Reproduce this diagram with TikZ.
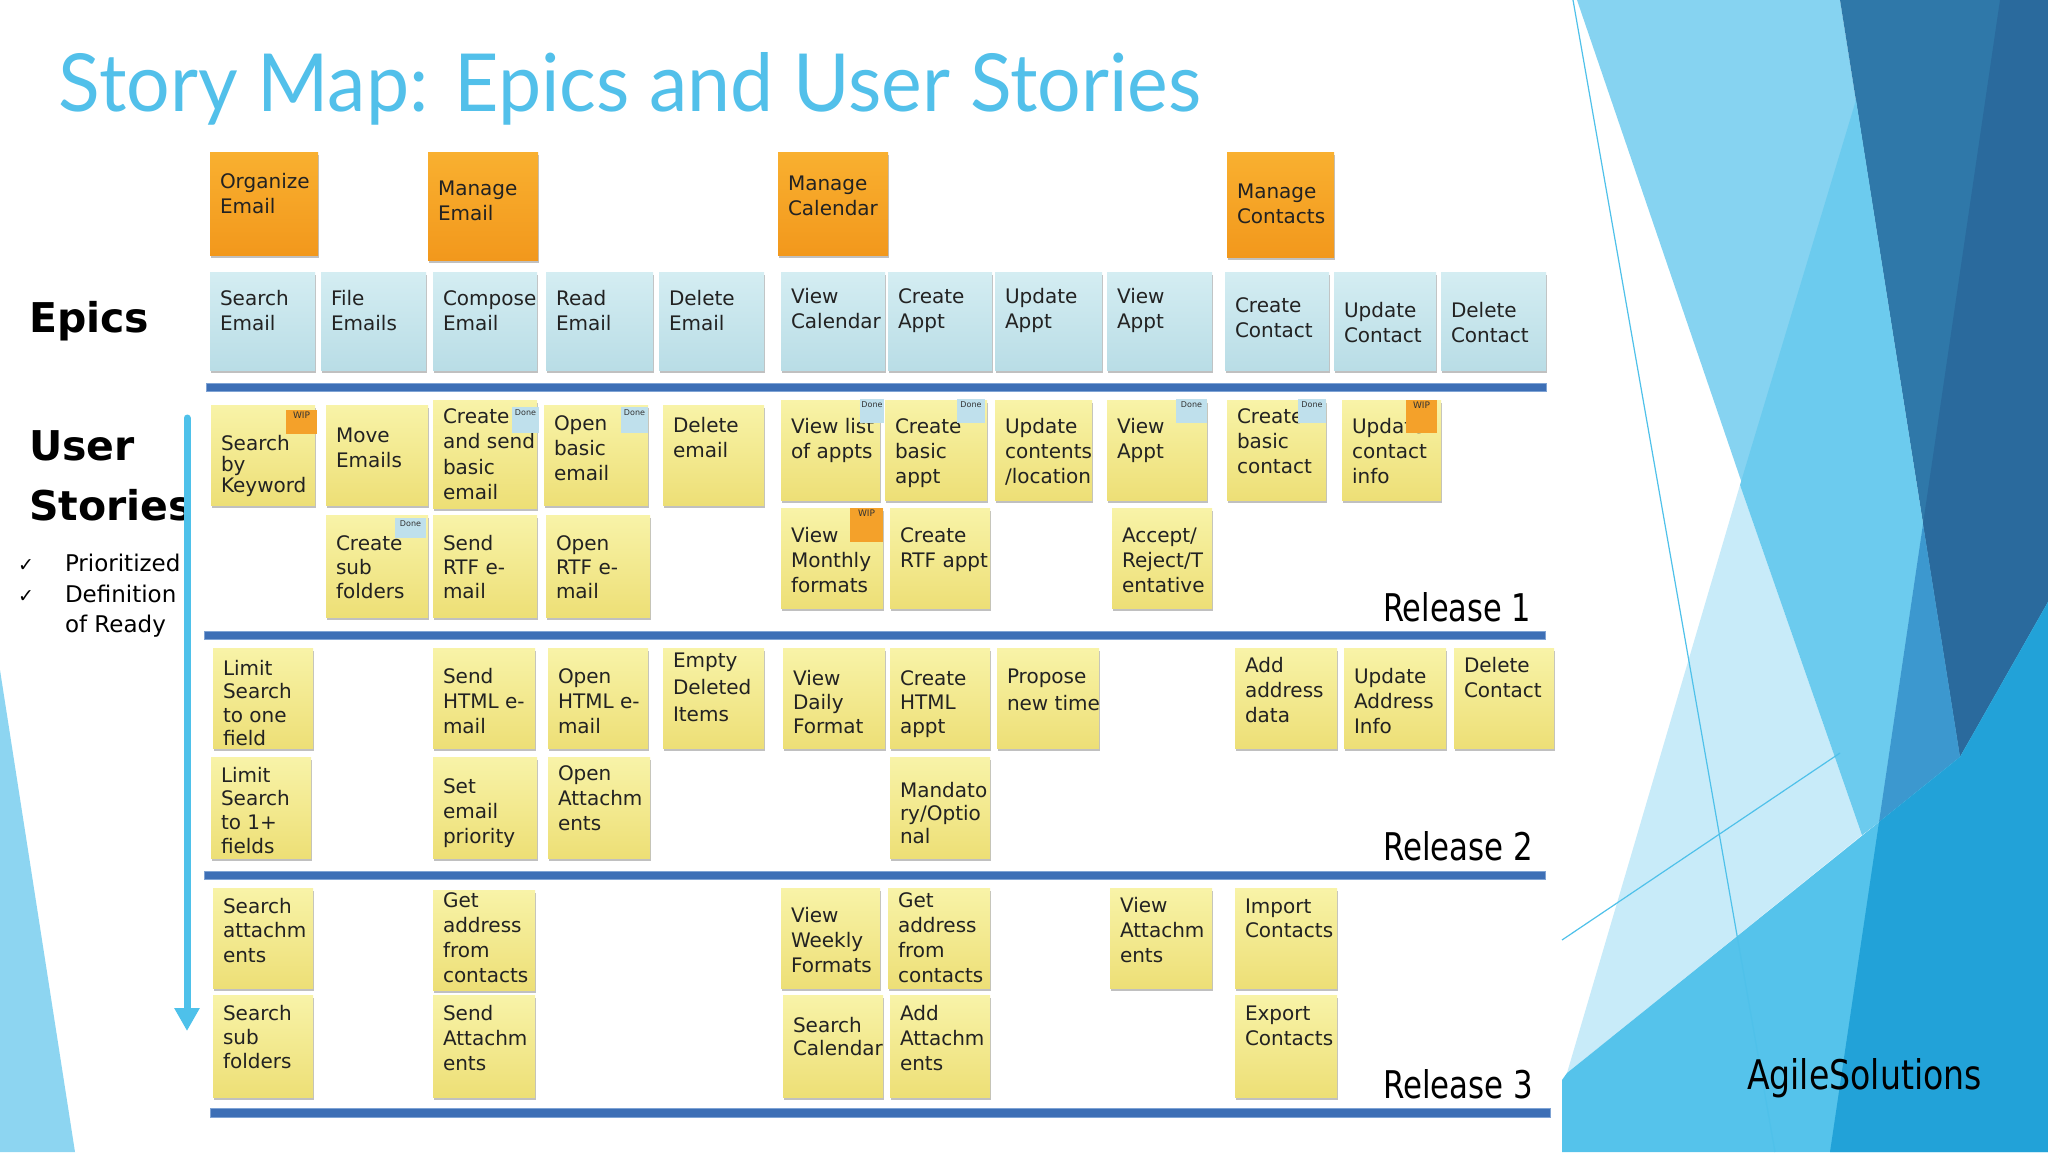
\documentclass[tikz,border=0pt]{standalone}
\usepackage{fontspec}
\setmainfont{DejaVu Sans}
\newfontfamily\titlefont{Lato}
\usepackage{graphicx}
\usetikzlibrary{shadows,calc,arrows.meta}

\definecolor{titleC}{HTML}{52C0EA}
\definecolor{yTop}{HTML}{F8F3A8}
\definecolor{yBot}{HTML}{EDDF76}
\definecolor{bTop}{HTML}{D4EDF2}
\definecolor{bBot}{HTML}{B9DDE6}
\definecolor{oTop}{HTML}{F9B030}
\definecolor{oBot}{HTML}{F2981C}
\definecolor{wipC}{HTML}{F4A12A}
\definecolor{doneC}{HTML}{BFE0EC}
\definecolor{barC}{HTML}{3D6FB6}
\definecolor{barEdge}{HTML}{7FA3D4}
\definecolor{arrC}{HTML}{4EC1EA}
\definecolor{txtC}{HTML}{222222}
\definecolor{dA}{HTML}{86D3F1}
\definecolor{dB}{HTML}{2F78A9}
\definecolor{dC}{HTML}{2A6A9D}
\definecolor{dFanW}{HTML}{C8EBF9}
\definecolor{dFanA}{HTML}{6CCBEE}
\definecolor{dMix}{HTML}{3C98CF}
\definecolor{dBot}{HTML}{55C3EB}
\definecolor{dBotB}{HTML}{22A2D8}
\definecolor{dLine}{HTML}{4FC1EA}
\definecolor{dLeft}{HTML}{8DD5F1}

\newcommand\stlines[1]{\begin{tabular}[t]{@{}l@{}}#1\end{tabular}}
\newcommand\stnote[9][25]{%
  \node[#3,minimum width=#6pt,minimum height=#7pt] (#2) at (#4,#5) {};
  \node[ntext,font=\fontsize{20}{#1}\selectfont] (#2-t) at ($(#2.north west)+(10,#8)$) {\stlines{#9}};}

\begin{document}
\begin{tikzpicture}[x=1pt,y=-1pt,
  every node/.style={inner sep=0pt,outer sep=0pt},
  note/.style={anchor=north west,drop shadow={shadow xshift=0.5pt,shadow yshift=-3pt,opacity=0.35,fill=black!70}},
  ynote/.style={note,top color=yTop,bottom color=yBot},
  bnote/.style={note,top color=bTop,bottom color=bBot},
  onote/.style={note,top color=oTop,bottom color=oBot},
  ntext/.style={anchor=base west,text=txtC},
  wiptag/.style={anchor=north west,fill=wipC,font=\fontsize{9}{9}\selectfont,text=black!80,text height=8pt},
  donetag/.style={anchor=north west,fill=doneC,font=\fontsize{8}{8}\selectfont,text=black!80,text height=8pt},
  relbar/.style={anchor=north west,fill=barC,draw=barEdge,line width=1pt,minimum height=8pt},
  rellabel/.style={anchor=base west,text=black},
  heading/.style={anchor=base west,text=black,font=\bfseries\fontsize{41}{48}\selectfont},
  bullet/.style={anchor=base west,text=black,font=\fontsize{23}{23}\selectfont},
  storyarrow/.style={line width=7pt,draw=arrC,line cap=round,-{Triangle[width=24pt,length=23pt]}}
]
\useasboundingbox (0,0) rectangle (2048,1152);
\fill[white] (0,0) rectangle (2048,1152);

% background decoration
\fill[dLeft] (0,670) -- (75,1152) -- (0,1152) -- cycle;
\fill[dA] (1577,0) -- (1840,0) -- (1960,757) -- (1862,835) -- cycle;
\fill[dB] (1840,0) -- (2048,0) -- (2048,602) -- (1960,757) -- cycle;
\fill[dC] (2000,0) -- (2048,0) -- (2048,602) -- (1960,757) -- (1923,524) -- cycle;
\fill[dFanW] (1740,485) -- (1567,1073) -- (1862,835) -- cycle;
\fill[dFanA] (1740,485) -- (1856,100) -- (1923,524) -- (1879,822) -- (1862,835) -- cycle;
\fill[dMix] (1923,524) -- (1960,757) -- (1879,822) -- cycle;
\fill[dBot] (1562,1080) -- (1567,1073) -- (1960,757) -- (2048,602) -- (2048,1152) -- (1562,1152) -- cycle;
\fill[dBotB] (1879,822) -- (1960,757) -- (2048,602) -- (2048,1152) -- (1830,1152) -- cycle;
\draw[dLine,line width=1.2pt] (1573,0) -- (1775,1152);
\draw[dLine,line width=1.2pt] (1562,940) -- (1840,753);

% title and left texts
\node[anchor=base west,text=titleC] (title) at (59,111) {\resizebox{1142pt}{59pt}{\titlefont Story Map: Epics and User Stories}};
\node[heading] (epics) at (29,332) {Epics};
\node[heading] (user) at (29,460) {User};
\node[heading] (stories) at (29,520) {Stories};
\node[bullet,font=\fontsize{19}{19}\selectfont] (chk1) at (18,571) {✓};
\node[bullet,font=\fontsize{19}{19}\selectfont] (chk2) at (18,602) {✓};
\node[bullet] (prio) at (65,571) {Prioritized};
\node[bullet] (defn) at (65,602) {Definition};
\node[bullet] (ready) at (65,632) {of Ready};
\node[anchor=base west,text=black] (brand) at (1747,1089) {\resizebox{235pt}{31pt}{AgileSolutions}};

% arrow
\coordinate (arrTop) at (187,418);
\coordinate (arrTip) at (187,1031);
\draw[storyarrow] (arrTop) -- (arrTip);

% release bars
\node[relbar,minimum width=1340pt] (bar1) at (206,383) {};
\node[relbar,minimum width=1341pt] (bar2) at (204,631) {};
\node[relbar,minimum width=1341pt] (bar3) at (204,871) {};
\node[relbar,minimum width=1340pt,minimum height=9pt] (bar4) at (210,1108) {};

% epic stickies
\stnote{oe1}{onote}{210}{152}{108}{103}{36}{Organize\\Email}
\stnote{oe2}{onote}{428}{152}{110}{108}{43}{Manage\\Email}
\stnote{oe3}{onote}{778}{152}{110}{103}{38}{Manage\\Calendar}
\stnote{oe4}{onote}{1227}{152}{107}{105}{46}{Manage\\Contacts}

\stnote{b1}{bnote}{210}{272}{105}{98}{33}{Search\\Email}
\stnote{b2}{bnote}{321}{272}{105}{98}{33}{File\\Emails}
\stnote{b3}{bnote}{433}{272}{104}{98}{33}{Compose\\Email}
\stnote{b4}{bnote}{546}{272}{107}{98}{33}{Read\\Email}
\stnote{b5}{bnote}{659}{272}{105}{98}{33}{Delete\\Email}
\stnote{b6}{bnote}{781}{272}{104}{98}{31}{View\\Calendar}
\stnote{b7}{bnote}{888}{272}{104}{98}{31}{Create\\Appt}
\stnote{b8}{bnote}{995}{272}{107}{98}{31}{Update\\Appt}
\stnote{b9}{bnote}{1107}{272}{105}{98}{31}{View\\Appt}
\stnote{b10}{bnote}{1225}{272}{104}{98}{40}{Create\\Contact}
\stnote{b11}{bnote}{1334}{272}{102}{98}{45}{Update\\Contact}
\stnote{b12}{bnote}{1441}{272}{105}{98}{45}{Delete\\Contact}

% release 1
\stnote[20]{r1a1}{ynote}{211}{405}{104}{100}{45}{Search\\by\\Keyword}
\stnote{r1a2}{ynote}{326}{405}{102}{100}{37}{Move\\Emails}
\stnote[25.5]{r1a3}{ynote}{433}{400}{104}{108}{23}{Create\\and send\\basic\\email}
\stnote{r1a4}{ynote}{544}{405}{104}{100}{25}{Open\\basic\\email}
\stnote{r1a5}{ynote}{663}{405}{101}{100}{27}{Delete\\email}
\stnote{r1a6}{ynote}{781}{400}{99}{100}{33}{View list\\of appts}
\stnote{r1a7}{ynote}{885}{400}{102}{100}{33}{Create\\basic\\appt}
\stnote{r1a8}{ynote}{995}{400}{97}{100}{33}{Update\\contents\\/location}
\stnote{r1a9}{ynote}{1107}{400}{100}{100}{33}{View\\Appt}
\stnote{r1a10}{ynote}{1227}{400}{99}{100}{23}{Create\\basic\\contact}
\stnote{r1a11}{ynote}{1342}{400}{99}{100}{33}{Update\\contact\\info}

\stnote[24]{r1b2}{ynote}{326}{515}{102}{102}{35}{Create\\sub\\folders}
\stnote[24]{r1b3}{ynote}{433}{515}{104}{102}{35}{Send\\RTF e-\\mail}
\stnote[24]{r1b4}{ynote}{546}{515}{104}{102}{35}{Open\\RTF e-\\mail}
\stnote{r1b6}{ynote}{781}{508}{102}{100}{34}{View\\Monthly\\formats}
\stnote{r1b7}{ynote}{890}{508}{100}{100}{34}{Create\\RTF appt}
\stnote{r1b9}{ynote}{1112}{508}{100}{100}{34}{Accept/\\Reject/T\\entative}

\node[wiptag,minimum width=31pt,minimum height=24pt,text depth=16pt] (tag1) at (286,410) {WIP};
\node[donetag,minimum width=27pt,minimum height=26pt,text depth=18pt] (tag2) at (512,407) {Done};
\node[donetag,minimum width=27pt,minimum height=26pt,text depth=18pt] (tag3) at (621,407) {Done};
\node[donetag,minimum width=31pt,minimum height=20pt,text depth=12pt] (tag4) at (395,518) {Done};
\node[donetag,minimum width=24pt,minimum height=24pt,text depth=16pt] (tag5) at (860,399) {Done};
\node[donetag,minimum width=28pt,minimum height=24pt,text depth=16pt] (tag6) at (957,399) {Done};
\node[donetag,minimum width=31pt,minimum height=24pt,text depth=16pt] (tag7) at (1176,399) {Done};
\node[donetag,minimum width=28pt,minimum height=24pt,text depth=16pt] (tag8) at (1298,399) {Done};
\node[wiptag,minimum width=31pt,minimum height=33pt,text depth=25pt] (tag9) at (1406,400) {WIP};
\node[wiptag,minimum width=33pt,minimum height=34pt,text depth=26pt] (tag10) at (850,508) {WIP};

\node[rellabel] (rel1) at (1383,621) {\resizebox{148pt}{29pt}{Release 1}};

% release 2
\stnote[23.5]{r2a1}{ynote}{213}{648}{100}{100}{27}{Limit\\Search\\to one\\field}
\stnote{r2a3}{ynote}{433}{648}{102}{100}{35}{Send\\HTML e-\\mail}
\stnote{r2a4}{ynote}{548}{648}{100}{100}{35}{Open\\HTML e-\\mail}
\stnote[27]{r2a5}{ynote}{663}{648}{101}{100}{19}{Empty\\Deleted\\Items}
\stnote[24]{r2a6}{ynote}{783}{648}{102}{100}{37}{View\\Daily\\Format}
\stnote[24]{r2a7}{ynote}{890}{648}{100}{100}{37}{Create\\HTML\\appt}
\stnote[27]{r2a8}{ynote}{997}{648}{102}{100}{35}{Propose\\new time}
\stnote{r2a10}{ynote}{1235}{648}{102}{100}{24}{Add\\address\\data}
\stnote{r2a11}{ynote}{1344}{648}{102}{100}{35}{Update\\Address\\Info}
\stnote{r2a12}{ynote}{1454}{648}{100}{100}{24}{Delete\\Contact}

\stnote[23.7]{r2b1}{ynote}{211}{757}{100}{101}{25}{Limit\\Search\\to 1+\\fields}
\stnote{r2b3}{ynote}{433}{757}{104}{101}{36}{Set\\email\\priority}
\stnote{r2b4}{ynote}{548}{757}{102}{101}{23}{Open\\Attachm\\ents}
\stnote[23]{r2b7}{ynote}{890}{757}{100}{101}{40}{Mandato\\ry/Optio\\nal}

\node[rellabel] (rel2) at (1383,860) {\resizebox{150pt}{29pt}{Release 2}};

% release 3
\stnote[24.5]{r3a1}{ynote}{213}{888}{100}{100}{25}{Search\\attachm\\ents}
\stnote{r3a3}{ynote}{433}{890}{102}{100}{17}{Get\\address\\from\\contacts}
\stnote{r3a6}{ynote}{781}{888}{99}{100}{34}{View\\Weekly\\Formats}
\stnote{r3a7}{ynote}{888}{888}{102}{100}{19}{Get\\address\\from\\contacts}
\stnote{r3a9}{ynote}{1110}{888}{102}{100}{24}{View\\Attachm\\ents}
\stnote[24]{r3a10}{ynote}{1235}{888}{102}{100}{25}{Import\\Contacts}

\stnote[24]{r3b1}{ynote}{213}{995}{100}{102}{25}{Search\\sub\\folders}
\stnote{r3b3}{ynote}{433}{995}{102}{102}{25}{Send\\Attachm\\ents}
\stnote[23]{r3b6}{ynote}{783}{995}{100}{102}{37}{Search\\Calendar}
\stnote{r3b7}{ynote}{890}{995}{100}{102}{25}{Add\\Attachm\\ents}
\stnote{r3b10}{ynote}{1235}{995}{102}{102}{25}{Export\\Contacts}

\node[rellabel] (rel3) at (1383,1098) {\resizebox{150pt}{29pt}{Release 3}};
\end{tikzpicture}
\end{document}
